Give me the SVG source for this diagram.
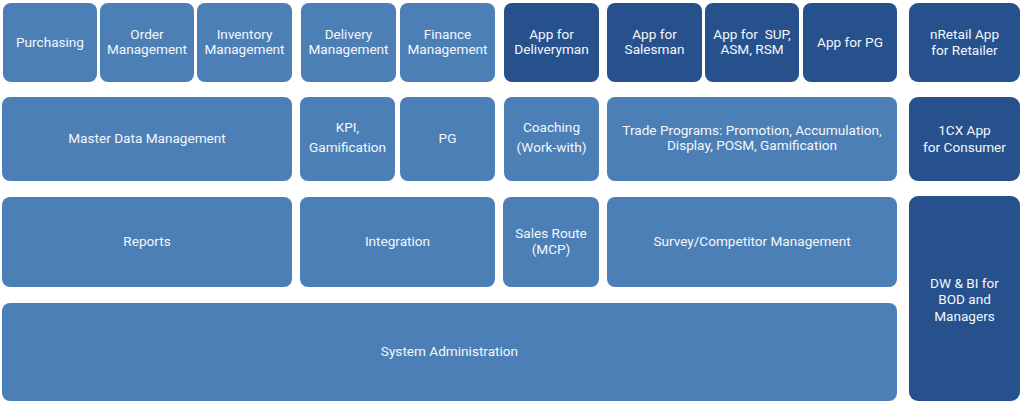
<svg xmlns="http://www.w3.org/2000/svg" width="1024" height="403" viewBox="0 0 1024 403">
<style>
.l{fill:#4b7fb6}
.d{fill:#26518d}
text{font-family:Roboto,"Liberation Sans",sans-serif;font-size:13.6px;fill:#f4f7fb;text-anchor:middle}
</style>
<rect width="1024" height="403" fill="#ffffff"/>
<g id="purchasing"><rect class="l" x="3" y="3" width="94" height="79" rx="8"/><text x="50" y="46.5">Purchasing</text></g>
<g id="order"><rect class="l" x="100" y="3" width="94" height="79" rx="8"/><text x="147" y="39">Order</text><text x="147" y="54">Management</text></g>
<g id="inventory"><rect class="l" x="197" y="3" width="95" height="79" rx="8"/><text x="244.5" y="39">Inventory</text><text x="244.5" y="54">Management</text></g>
<g id="delivery"><rect class="l" x="301" y="3" width="95" height="79" rx="8"/><text x="348.5" y="39">Delivery</text><text x="348.5" y="54">Management</text></g>
<g id="finance"><rect class="l" x="400" y="3" width="95" height="79" rx="8"/><text x="447.5" y="39">Finance</text><text x="447.5" y="54">Management</text></g>
<g id="app-deliveryman"><rect class="d" x="504" y="3" width="95" height="79" rx="8"/><text x="551.5" y="39">App for</text><text x="551.5" y="54">Deliveryman</text></g>
<g id="app-salesman"><rect class="d" x="607" y="3" width="95" height="79" rx="8"/><text x="654.5" y="39">App for</text><text x="654.5" y="54">Salesman</text></g>
<g id="app-sup"><rect class="d" x="705" y="3" width="94" height="79" rx="8"/><text x="752" y="39" xml:space="preserve">App for  SUP,</text><text x="752" y="54">ASM, RSM</text></g>
<g id="app-pg"><rect class="d" x="803" y="3" width="94" height="79" rx="8"/><text x="850" y="46.5">App for PG</text></g>
<g id="nretail"><rect class="d" x="909" y="3" width="111" height="79" rx="9"/><text x="964.5" y="38.5">nRetail App</text><text x="964.5" y="55">for Retailer</text></g>

<g id="master-data"><rect class="l" x="2" y="97" width="290" height="84" rx="8"/><text x="147" y="142.5">Master Data Management</text></g>
<g id="kpi"><rect class="l" x="300" y="97" width="95" height="84" rx="8"/><text x="347.5" y="132">KPI,</text><text x="347.5" y="152">Gamification</text></g>
<g id="pg"><rect class="l" x="400" y="97" width="95" height="84" rx="8"/><text x="447.5" y="142.5">PG</text></g>
<g id="coaching"><rect class="l" x="504" y="97" width="95" height="84" rx="8"/><text x="551.5" y="132">Coaching</text><text x="551.5" y="152">(Work-with)</text></g>
<g id="trade"><rect class="l" x="607" y="97" width="290" height="84" rx="8"/><text x="752" y="135">Trade Programs: Promotion, Accumulation,</text><text x="752" y="149.5">Display, POSM, Gamification</text></g>
<g id="onecx"><rect class="d" x="909" y="97" width="111" height="84" rx="9"/><text x="964.5" y="135">1CX App</text><text x="964.5" y="151.5">for Consumer</text></g>

<g id="reports"><rect class="l" x="2" y="197" width="290" height="90" rx="8"/><text x="147" y="245.5">Reports</text></g>
<g id="integration"><rect class="l" x="300" y="197" width="195" height="90" rx="8"/><text x="397.5" y="245.5">Integration</text></g>
<g id="sales-route"><rect class="l" x="503" y="197" width="96" height="90" rx="8"/><text x="551" y="237.5">Sales Route</text><text x="551" y="254">(MCP)</text></g>
<g id="survey"><rect class="l" x="607" y="197" width="290" height="90" rx="8"/><text x="752" y="245.5">Survey/Competitor Management</text></g>
<g id="dwbi"><rect class="d" x="909" y="196" width="111" height="205" rx="9"/><text x="964.5" y="287.5">DW &amp; BI for</text><text x="964.5" y="304">BOD and</text><text x="964.5" y="320.5">Managers</text></g>

<g id="sysadmin"><rect class="l" x="2" y="303" width="895" height="98" rx="8"/><text x="449.5" y="356">System Administration</text></g>
<g id="connectors"></g>
</svg>
